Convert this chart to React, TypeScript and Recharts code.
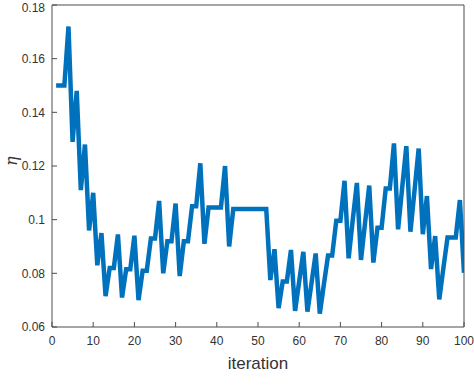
import React from 'react';
import { LineChart, Line, XAxis, YAxis } from 'recharts';

// eta value at each iteration
const ITERATIONS = Array.from({ length: 100 }, (_, i) => i + 1);
const ETA = [
  0.150, 0.150, 0.150, 0.172, 0.129, 0.148, 0.111, 0.128, 0.096, 0.110,
  0.083, 0.095, 0.0715, 0.082, 0.082, 0.0945, 0.071, 0.0815, 0.0815, 0.094,
  0.070, 0.081, 0.081, 0.093, 0.093, 0.107, 0.080, 0.092, 0.092, 0.106,
  0.079, 0.092, 0.092, 0.105, 0.105, 0.121, 0.091, 0.1045, 0.1045, 0.1045,
  0.1045, 0.120, 0.090, 0.104, 0.104, 0.104, 0.104, 0.104, 0.104, 0.104,
  0.104, 0.104, 0.0775, 0.089, 0.067, 0.077, 0.077, 0.0887, 0.066, 0.077,
  0.088, 0.0657, 0.0765, 0.0874, 0.065, 0.076, 0.0866, 0.0866, 0.0996, 0.0996,
  0.1145, 0.0856, 0.100, 0.1137, 0.085, 0.099, 0.1127, 0.084, 0.097, 0.097,
  0.1116, 0.1116, 0.1284, 0.0964, 0.112, 0.1274, 0.0955, 0.111, 0.1265, 0.0946,
  0.1088, 0.0816, 0.0939, 0.0703, 0.082, 0.0934, 0.0934, 0.0934, 0.1073, 0.0802,
];

const X_TICKS = [0, 10, 20, 30, 40, 50, 60, 70, 80, 90, 100];
const Y_TICKS = [0.06, 0.08, 0.1, 0.12, 0.14, 0.16, 0.18];

const data = ITERATIONS.map((it, i) => ({ iteration: it, eta: ETA[i] }));

const AXIS = '#4d4d4d';
const TEXT = '#333333';
const tickFont = { fontSize: 12, fill: TEXT, fontFamily: 'Liberation Sans, Arial, sans-serif' };

export default function App() {
  return (
    <div style={{ position: 'absolute', left: 0, top: 0, background: '#fff' }}>
      <LineChart
        width={474}
        height={391}
        data={data}
        margin={{ top: 4, right: 9, left: 0, bottom: 20 }}
      >
        <XAxis
          dataKey="iteration"
          type="number"
          domain={[0, 100]}
          ticks={X_TICKS}
          allowDataOverflow
          height={44}
          stroke={AXIS}
          tickSize={-5}
          tickMargin={14}
          tick={tickFont}
          label={{
            value: 'iteration',
            position: 'insideBottom',
            offset: 2,
            style: { fontSize: 17, fill: TEXT, fontFamily: 'Liberation Sans, Arial, sans-serif' },
          }}
        />
        <XAxis
          xAxisId="top"
          orientation="top"
          type="number"
          domain={[0, 100]}
          ticks={X_TICKS}
          height={1}
          stroke={AXIS}
          tickSize={-5}
          tick={false}
        />
        <YAxis
          type="number"
          domain={[0.06, 0.18]}
          ticks={Y_TICKS}
          allowDataOverflow
          width={52}
          stroke={AXIS}
          tickSize={-5}
          tickMargin={12}
          tick={tickFont}
          tickFormatter={(v: number) => String(Number(v.toFixed(2)))}
          label={{
            value: 'η',
            angle: -90,
            position: 'insideLeft',
            offset: 11,
            style: { fontSize: 16, fill: TEXT, fontStyle: 'italic', fontFamily: 'DejaVu Serif, serif' },
          }}
        />
        <YAxis
          yAxisId="right"
          orientation="right"
          type="number"
          domain={[0.06, 0.18]}
          ticks={Y_TICKS}
          width={1}
          stroke={AXIS}
          tickSize={-5}
          tick={false}
        />
        <Line
          type="linear"
          dataKey="eta"
          stroke="#0072BD"
          strokeWidth={4.5}
          strokeLinejoin="miter"
          dot={false}
          isAnimationActive={false}
        />
      </LineChart>
    </div>
  );
}
